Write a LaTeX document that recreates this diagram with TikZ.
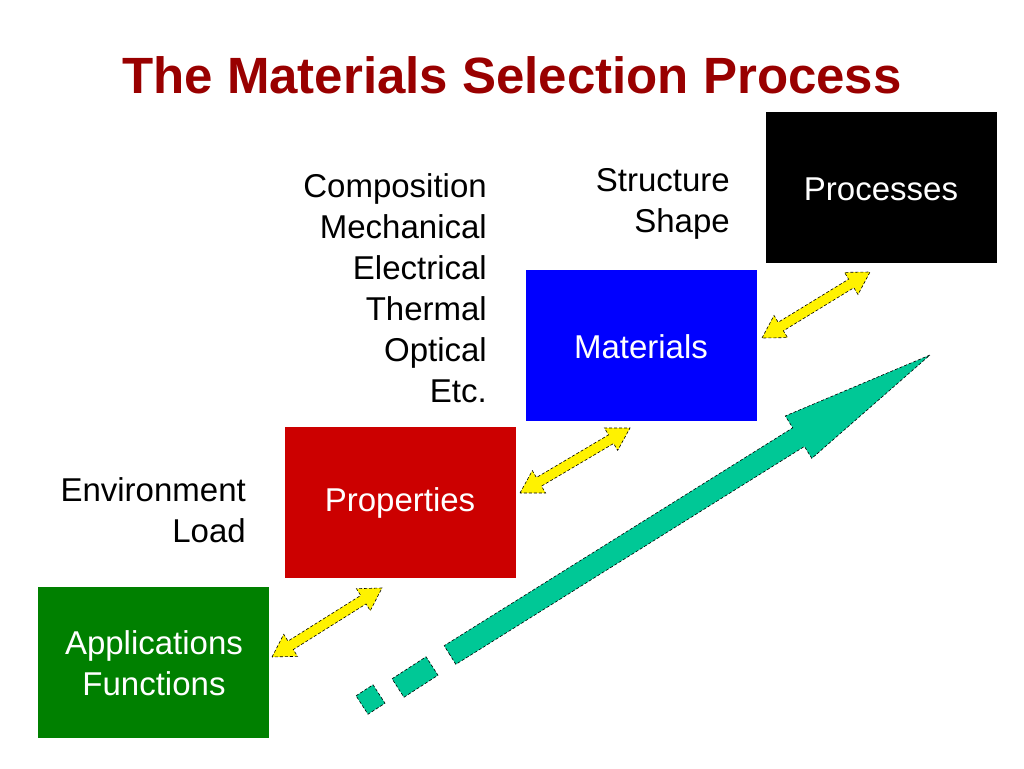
\documentclass[tikz,border=0pt]{standalone}
\usepackage{fontspec}
\setmainfont{Liberation Sans}
\usetikzlibrary{calc}
\definecolor{ttl}{HTML}{990000}
\definecolor{gbox}{HTML}{008000}
\definecolor{rbox}{HTML}{CC0000}
\definecolor{bbox}{HTML}{0000FF}
\definecolor{teal}{HTML}{00C896}
\begin{document}
\begin{tikzpicture}[x=1pt,y=-1pt,
 box/.style={draw=none,minimum width=231pt,minimum height=151pt,inner sep=0pt},
 btxt/.style={text=white,font=\fontsize{33}{41}\selectfont,align=center},
 lbl/.style={font=\fontsize{33}{41}\selectfont,align=right,anchor=north east,inner sep=0pt},
 arr/.style={draw=black,line width=0.6pt,dash pattern=on 3pt off 2pt}]
\useasboundingbox (0,0) rectangle (1024,768);
\node[font=\bfseries\fontsize{51}{56}\selectfont,text=ttl] (title) at (512,75) {The Materials Selection Process};
\node[box,fill=gbox,anchor=north west] (app) at (38,587) {};
\node[btxt] (appt) at (154,663) {Applications\\Functions};
\node[box,fill=rbox,anchor=north west] (prop) at (285,427) {};
\node[btxt] (propt) at (400,503) {Properties};
\node[box,fill=bbox,anchor=north west] (mat) at (526,270) {};
\node[btxt] (matt) at (641,347) {Materials};
\node[box,fill=black,anchor=north west] (proc) at (766,112) {};
\node[btxt] (proct) at (881,189) {Processes};
\node[lbl] (env) at (246,477) {Environment\\Load};
\node[lbl] (comp) at (487,173) {Composition\\Mechanical\\Electrical\\Thermal\\Optical\\Etc.};
\node[lbl] (str) at (730,168) {Structure\\Shape};
% yellow double arrows
\newcommand{\dbl}[2]{%
 \coordinate (A) at #1; \coordinate (B) at #2;
 \coordinate (h1) at ($(A)!22pt!(B)$); \coordinate (h2) at ($(B)!22pt!(A)$);
 \path[arr,fill=yellow] (A) -- ($(h1)!13pt!90:(B)$) -- ($(h1)!5pt!90:(B)$) -- ($(h2)!5pt!-90:(A)$) -- ($(h2)!13pt!-90:(A)$) -- (B)
 -- ($(h2)!13pt!90:(A)$) -- ($(h2)!5pt!90:(A)$) -- ($(h1)!5pt!-90:(B)$) -- ($(h1)!13pt!-90:(B)$) -- cycle;}
\dbl{(272,657)}{(382,588)}
\dbl{(520,493)}{(630,428)}
\dbl{(762,338)}{(870,272)}
% green arrow
\coordinate (T) at (930,355);
\coordinate (S) at (450,655);
\coordinate (H) at ($(T)!155pt!(S)$);
\path[arr,fill=teal] (S) -- ($(S)!11pt!90:(T)$) -- ($(H)!11pt!90:(T)$) -- ($(H)!25pt!90:(T)$) -- (T)
 -- ($(H)!25pt!-90:(T)$) -- ($(H)!11pt!-90:(T)$) -- ($(S)!11pt!-90:(T)$) -- cycle;
\coordinate (d1a) at (398,688); \coordinate (d1b) at (432,666);
\coordinate (d2a) at (362,705); \coordinate (d2b) at (379,694);
\foreach \a/\b in {d1a/d1b,d2a/d2b}{
 \path[arr,fill=teal] ($(\a)!11pt!90:(\b)$) -- ($(\b)!11pt!-90:(\a)$) -- ($(\b)!11pt!90:(\a)$) -- ($(\a)!11pt!-90:(\b)$) -- cycle;}
\end{tikzpicture}
\end{document}
